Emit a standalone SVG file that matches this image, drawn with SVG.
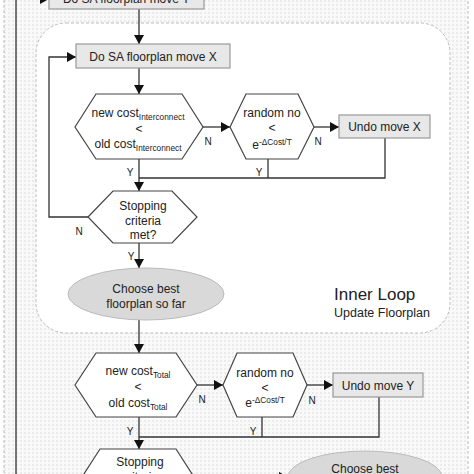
<svg xmlns="http://www.w3.org/2000/svg" width="474" height="474" viewBox="0 0 474 474">
<style>
text{font-family:"Liberation Sans",Arial,sans-serif;fill:#222}
.t{font-size:12px;text-anchor:middle}
.s{font-size:8.3px}
.l{font-size:10px;text-anchor:middle}
.hex{fill:#fff;stroke:#444;stroke-width:1.2}
.box{fill:#e8e8e8;stroke:#999;stroke-width:1.2}
.ell{fill:#d9d9d9;stroke:#bbb;stroke-width:1}
.c{fill:none;stroke:#333;stroke-width:1.3}
</style>
<defs>
<pattern id="dots" width="4" height="4" patternUnits="userSpaceOnUse"><rect width="4" height="4" fill="#f9f9f9"/><circle cx="1" cy="1" r="0.7" fill="#d2d2d2"/></pattern>
<marker id="ah" markerWidth="9" markerHeight="10" refX="9" refY="5" orient="auto" markerUnits="userSpaceOnUse"><path d="M0,0 L9,5 L0,10 Z" fill="#111"/></marker>
</defs>
<rect x="0" y="0" width="474" height="474" fill="#fff"/>
<rect id="outer" x="4" y="-20" width="464" height="520" fill="url(#dots)" stroke="#bbb" stroke-dasharray="3,2"/>
<rect id="inner" x="36" y="23" width="414" height="310" rx="30" fill="#fff" stroke="#bbb" stroke-dasharray="3,2"/>
<g id="connectors">
<path class="c" d="M16,474 V-1 H49" marker-end="url(#ah)"/>
<path class="c" d="M139,9 V44" marker-end="url(#ah)"/>
<path class="c" d="M88,217 H49 V57 H76" marker-end="url(#ah)"/>
<path class="c" d="M139,68 V94" marker-end="url(#ah)"/>
<path class="c" d="M203,127 H230" marker-end="url(#ah)"/>
<path class="c" d="M314,127 H339" marker-end="url(#ah)"/>
<path class="c" d="M385,138 V178 H139"/>
<path class="c" d="M268,159 V178"/>
<path class="c" d="M139,159 V191" marker-end="url(#ah)"/>
<path class="c" d="M139,243 V268" marker-end="url(#ah)"/>
<path class="c" d="M139,320 V353" marker-end="url(#ah)"/>
<path class="c" d="M197,385 H223" marker-end="url(#ah)"/>
<path class="c" d="M307,385 H333" marker-end="url(#ah)"/>
<path class="c" d="M379,397 V437 H139"/>
<path class="c" d="M262,417 V437"/>
<path class="c" d="M139,417 V449" marker-end="url(#ah)"/>
<path class="c" d="M194,477 H288" marker-end="url(#ah)"/>
<text class="l" x="208" y="145">N</text>
<text class="l" x="318" y="145">N</text>
<text class="l" x="130" y="176">Y</text>
<text class="l" x="259" y="176">Y</text>
<text class="l" x="79" y="235">N</text>
<text class="l" x="131" y="260">Y</text>
<text class="l" x="202" y="403">N</text>
<text class="l" x="312" y="404">N</text>
<text class="l" x="130" y="435">Y</text>
<text class="l" x="253" y="435">Y</text>
</g>
<g id="moveY"><rect class="box" x="49" y="-16" width="155" height="25"/><text class="t" x="126.5" y="3">Do SA floorplan move Y</text></g>
<g id="moveX"><rect class="box" x="76" y="44" width="154" height="24"/><text class="t" x="153" y="60.5">Do SA floorplan move X</text></g>
<g id="cmpInter"><polygon class="hex" points="75,127 96,94 182,94 203,127 182,159 96,159"/>
<text class="t" x="138" y="117">new cost<tspan class="s" dy="3">Interconnect</tspan></text>
<text class="t" x="139" y="133">&lt;</text>
<text class="t" x="138" y="148">old cost<tspan class="s" dy="3">Interconnect</tspan></text></g>
<g id="randX"><polygon class="hex" points="230,127 246,94 298,94 314,127 298,159 246,159"/>
<text class="t" x="272" y="117">random no</text>
<text class="t" x="272" y="132">&lt;</text>
<text class="t" x="272" y="149">e<tspan class="s" dy="-4">-ΔCost/T</tspan></text></g>
<g id="undoX"><rect class="box" x="339" y="115" width="91" height="23"/><text class="t" x="384.5" y="131">Undo move X</text></g>
<g id="stopInner"><polygon class="hex" points="88,217 113,191 172,191 197,217 172,243 113,243"/>
<text class="t" x="143" y="210">Stopping</text>
<text class="t" x="143" y="225">criteria</text>
<text class="t" x="143" y="239">met?</text></g>
<g id="bestInner"><ellipse class="ell" cx="146" cy="294" rx="78" ry="26"/>
<text class="t" x="146" y="293">Choose best</text>
<text class="t" x="146" y="308">floorplan so far</text></g>
<g id="innerLabel"><text x="334" y="300" style="font-size:17px">Inner Loop</text><text x="334" y="317" style="font-size:12.5px">Update Floorplan</text></g>
<g id="cmpTotal"><polygon class="hex" points="75,385 96,353 176,353 197,385 176,417 96,417"/>
<text class="t" x="138" y="375">new cost<tspan class="s" dy="3">Total</tspan></text>
<text class="t" x="138" y="391">&lt;</text>
<text class="t" x="138" y="407">old cost<tspan class="s" dy="3">Total</tspan></text></g>
<g id="randY"><polygon class="hex" points="223,385 237,353 293,353 307,385 293,417 237,417"/>
<text class="t" x="265" y="377">random no</text>
<text class="t" x="265" y="392">&lt;</text>
<text class="t" x="265" y="407">e<tspan class="s" dy="-4">-ΔCost/T</tspan></text></g>
<g id="undoY"><rect class="box" x="333" y="373" width="90" height="24"/><text class="t" x="378" y="389.5">Undo move Y</text></g>
<g id="stopOuter"><polygon class="hex" points="82,477 100,449 176,449 194,477 176,505 100,505"/>
<text class="t" x="140" y="466">Stopping</text>
<text class="t" x="140" y="481">criteria</text></g>
<g id="bestOuter"><ellipse class="ell" cx="365" cy="477" rx="77" ry="26"/>
<text class="t" x="365" y="473">Choose best</text></g>
</svg>
